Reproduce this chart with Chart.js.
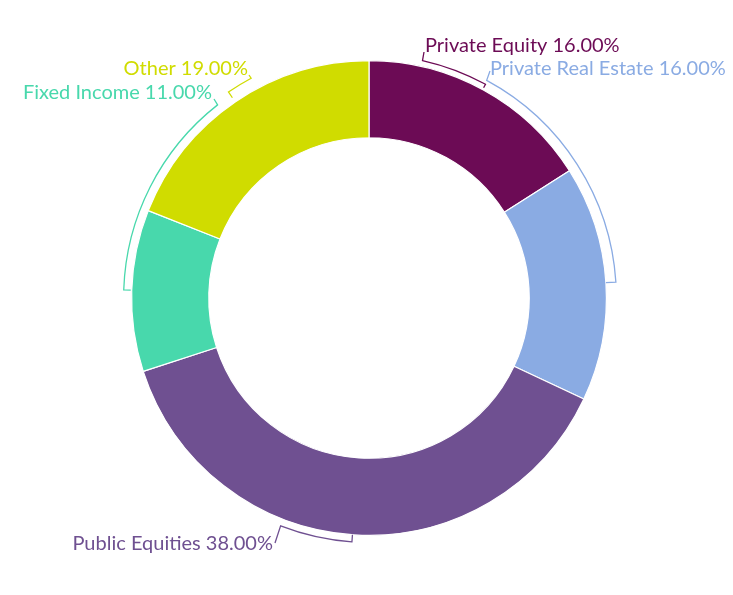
<!DOCTYPE html>
<html>
<head>
<meta charset="utf-8">
<script src="https://cdn.jsdelivr.net/npm/chart.js@4.4.0/dist/chart.umd.min.js"></script>
<style>
html,body{margin:0;padding:0;background:#fff;}
#wrap{width:733px;height:595px;position:relative;}
</style>
</head>
<body>
<div id="wrap"><canvas id="c"></canvas></div>
<script>
const categories = ["Private Equity", "Private Real Estate", "Public Equities", "Fixed Income", "Other"];
const values = [16, 16, 38, 11, 19];
const colors = ["#6c0b55", "#8aabe3", "#6f5091", "#48d8ac", "#d0dc00"];

// label layout: text anchor (x,y baseline), alignment, and bracket geometry (degrees from top, radius offsets)
const labelLayout = [
  {x: 425, y: 52, align: "left",  ax: 424, ay: 52, a1: 12.7,  a2: 28.6,  dr: 6,  tick: 2},
  {x: 490, y: 75, align: "left",  ax: 490, ay: 71, a1: 28.4,  a2: 86.3,  dr: 10, tick: 0},
  {x: 273, y: 550, align: "right", ax: 275, ay: 543, a1: 201.2, a2: 184.0, dr: 7,  tick: 0},
  {x: 212, y: 99, align: "right", ax: 214, ay: 99, a1: 321.9, a2: 271.9, dr: 8,  tick: 1},
  {x: 248, y: 75, align: "right", ax: 249, ay: 75, a1: 331.8, a2: 325.7, dr: 12, tick: 5}
];

const labelPlugin = {
  id: "bracketLabels",
  afterDatasetsDraw(chart) {
    const ctx = chart.ctx;
    const meta = chart.getDatasetMeta(0);
    const arc0 = meta.data[0];
    const cx = arc0.x, cy = arc0.y, R = arc0.outerRadius;
    const ds = chart.data.datasets[0];
    const total = ds.data.reduce((a, b) => a + b, 0);
    ctx.save();
    chart.data.labels.forEach((lab, i) => {
      const L = labelLayout[i];
      const col = ds.backgroundColor[i];
      const pct = (ds.data[i] / total * 100).toFixed(2) + "%";
      ctx.font = "20px Lato";
      ctx.fillStyle = col;
      ctx.textAlign = L.align;
      ctx.textBaseline = "alphabetic";
      ctx.fillText(lab + " " + pct, L.x, L.y);
      // bracket
      const rb = R + L.dr;
      const t1 = (L.a1 - 90) * Math.PI / 180;
      const t2 = (L.a2 - 90) * Math.PI / 180;
      ctx.strokeStyle = col;
      ctx.lineWidth = 1.3;
      ctx.beginPath();
      ctx.moveTo(L.ax, L.ay);
      ctx.lineTo(cx + rb * Math.cos(t1), cy + rb * Math.sin(t1));
      ctx.arc(cx, cy, rb, t1, t2, L.a2 < L.a1);
      const rt = R + L.tick;
      ctx.lineTo(cx + rt * Math.cos(t2), cy + rt * Math.sin(t2));
      ctx.stroke();
    });
    ctx.restore();
  }
};

new Chart(document.getElementById("c"), {
  type: "doughnut",
  data: {
    labels: categories,
    datasets: [{
      data: values,
      backgroundColor: colors,
      borderColor: "#ffffff",
      borderWidth: 1.2,
      hoverOffset: 0
    }]
  },
  options: {
    responsive: true,
    maintainAspectRatio: false,
    animation: false,
    cutout: "67.5%",
    layout: {padding: {top: 60, bottom: 59, left: 5, right: 0}},
    plugins: {legend: {display: false}, tooltip: {enabled: false}}
  },
  plugins: [labelPlugin]
});
</script>
</body>
</html>
